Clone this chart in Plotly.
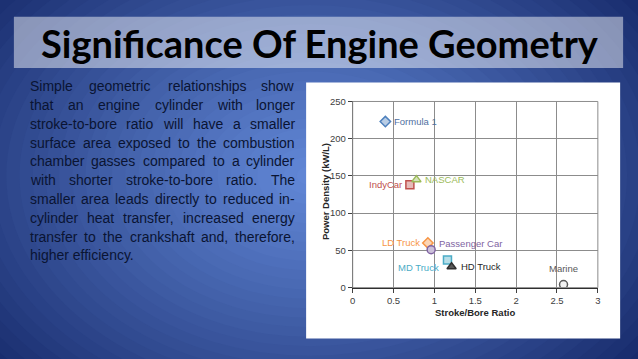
import plotly.graph_objects as go

# ---------------- data ----------------
names = ["Formula 1", "IndyCar", "NASCAR", "LD Truck", "Passenger Car", "MD Truck", "HD Truck", "Marine"]
stroke_bore = [0.40, 0.70, 0.78, 0.92, 0.96, 1.16, 1.21, 2.58]
power_density = [223, 138, 145, 60, 51, 37, 28, 4]
x_ticks = [0, 0.5, 1, 1.5, 2, 2.5, 3]
y_ticks = [0, 50, 100, 150, 200, 250]

title_text = "Significance Of Engine Geometry"
body_lines = [
    "Simple geometric relationships show",
    "that an engine cylinder with longer",
    "stroke-to-bore ratio will have a smaller",
    "surface area exposed to the combustion",
    "chamber gasses compared to a cylinder",
    "with shorter stroke-to-bore ratio. The",
    "smaller area leads directly to reduced in-",
    "cylinder heat transfer, increased energy",
    "transfer to the crankshaft and, therefore,",
    "higher efficiency.",
]

# ---------------- styles ----------------
W, H = 638, 359
symbols = ["diamond", "square", "triangle-up", "diamond", "circle", "square", "triangle-up", "circle"]
line_cols = ["#4F81BD", "#C0504D", "#9BBB59", "#F79646", "#8064A2", "#4BACC6", "#303030", "#595959"]
fill_cols = ["#B9CDE5", "#E6B9B8", "#D7E4BD", "#FCD5B5", "#CCC1DA", "#B7DEE8", "#595959", "#F2F2F2"]
label_cols = ["#4F6F9F", "#C0504D", "#9BBB59", "#F79646", "#8064A2", "#4BACC6", "#262626", "#595959"]
# (xanchor, xshift, yshift)
label_place = [("left", 9, 0), ("right", -8, 0), ("left", 9, 0), ("right", -8, 0),
               ("left", 8, 6), ("right", -8, -7), ("left", 9, 0), ("center", 0, 16)]

label_font = "Liberation Sans Narrow, Arial Narrow, Liberation Sans, Arial, sans-serif"

def px(x):
    return x / W

def py(y):
    return 1 - y / H

fig = go.Figure()

for i, n in enumerate(names):
    fig.add_trace(go.Scatter(
        x=[stroke_bore[i]], y=[power_density[i]], mode="markers", name=n,
        marker=dict(symbol=symbols[i], size=8, color=fill_cols[i],
                    line=dict(color=line_cols[i], width=1.5)),
        showlegend=False, hoverinfo="x+y+name"))
    xa, xs, ys = label_place[i]
    fig.add_annotation(x=stroke_bore[i], y=power_density[i], xref="x", yref="y",
                       text=n, showarrow=False, xanchor=xa, yanchor="middle",
                       xshift=xs, yshift=ys, borderpad=0, borderwidth=0,
                       font=dict(family=label_font, size=9.5, color=label_cols[i]))

# ---------------- background gradient ----------------
shapes = []
cx, cy = 310, 175
RX, RY = 600, 440
c_center = (98, 136, 215)
c_edge = (18, 36, 100)
N = 45
for k in range(N + 1):
    d = 1 - k / N
    t = min(d / 0.75, 1.0) ** 1.15
    col = tuple(int(round(c_center[j] + t * (c_edge[j] - c_center[j]))) for j in range(3))
    rx, ry = RX * d, RY * d
    if rx < 1:
        continue
    shapes.append(dict(type="circle", xref="paper", yref="paper", layer="below",
                       x0=px(cx - rx), x1=px(cx + rx), y0=py(cy + ry), y1=py(cy - ry),
                       fillcolor="rgb(%d,%d,%d)" % col, line=dict(width=0)))

# title box
shapes.append(dict(type="rect", xref="paper", yref="paper", layer="below",
                   x0=px(11), x1=px(626), y0=py(64), y1=py(11),
                   fillcolor="rgba(255,255,255,0.47)", line=dict(width=0)))
# white chart panel
shapes.append(dict(type="rect", xref="paper", yref="paper", layer="below",
                   x0=px(306), x1=px(623), y0=py(343), y1=py(79),
                   fillcolor="#FFFFFF", line=dict(width=0)))
# plot-area frame (top/right edges)
shapes.append(dict(type="rect", xref="x domain", yref="y domain", layer="above",
                   x0=0, x1=1, y0=0, y1=1, fillcolor="rgba(0,0,0,0)",
                   line=dict(color="#8C8C8C", width=1)))

# ---------------- title ----------------
fig.add_annotation(xref="paper", yref="paper", x=px(320), y=py(38.5), text="<b>" + title_text + "</b>",
                   showarrow=False, xanchor="center", yanchor="middle", borderpad=0, borderwidth=0,
                   font=dict(family="Lato, sans-serif", size=38, color="#000000", weight=900))

# ---------------- justified body text ----------------
AW = {'a': 556, 'b': 556, 'c': 500, 'd': 556, 'e': 556, 'f': 278, 'g': 556, 'h': 556, 'i': 222,
      'j': 222, 'k': 500, 'l': 222, 'm': 833, 'n': 556, 'o': 556, 'p': 556, 'q': 556, 'r': 333,
      's': 500, 't': 278, 'u': 556, 'v': 500, 'w': 722, 'x': 500, 'y': 500, 'z': 500,
      '-': 333, '.': 278, ',': 278, 'T': 611, 'S': 667, ' ': 278}
fs = 14.0
left, right = 27, 295
top_y, step = 83, 19.35
body_font = dict(family="Liberation Sans, Arial, sans-serif", size=fs, color="#0A1433")

def wwidth(w):
    return sum(AW.get(ch, 556) for ch in w) * fs / 1000.0

for li, line in enumerate(body_lines):
    yy = py(top_y + li * step)
    words = line.split(" ")
    if li == len(body_lines) - 1:
        fig.add_annotation(xref="paper", yref="paper", x=px(left), y=yy, text=line,
                           showarrow=False, xanchor="left", yanchor="middle",
                           borderpad=0, borderwidth=0, font=body_font)
        continue
    widths = [wwidth(w) for w in words]
    gap = (right - left - sum(widths)) / (len(words) - 1)
    xcur = left
    for wi, w in enumerate(words):
        if wi == len(words) - 1:
            fig.add_annotation(xref="paper", yref="paper", x=px(right), y=yy, text=w,
                               showarrow=False, xanchor="right", yanchor="middle",
                               borderpad=0, borderwidth=0, font=body_font)
        else:
            fig.add_annotation(xref="paper", yref="paper", x=px(xcur), y=yy, text=w,
                               showarrow=False, xanchor="left", yanchor="middle",
                               borderpad=0, borderwidth=0, font=body_font)
        xcur += widths[wi] + gap

# ---------------- axis titles ----------------
fig.add_annotation(xref="paper", yref="paper", x=px(325), y=py(191), text="<b>Power Density (kW/L)</b>",
                   textangle=-90, showarrow=False, xanchor="center", yanchor="middle",
                   borderpad=0, borderwidth=0,
                   font=dict(family=label_font, size=9.5, color="#262626"))
fig.add_annotation(xref="paper", yref="paper", x=px(476.7), y=py(316), text="<b>Stroke/Bore Ratio</b>",
                   showarrow=False, xanchor="center", yanchor="middle", borderpad=0, borderwidth=0,
                   font=dict(family=label_font, size=9.5, color="#262626"))

# ---------------- layout ----------------
x_dom = [px(353), px(600.5)]
y_dom = [1 - 290.5 / H, 1 - 98.5 / H]
tick_font = dict(family=label_font, size=9.5, color="#404040")

fig.update_layout(
    width=W, height=H, margin=dict(l=0, r=0, t=0, b=0),
    paper_bgcolor="rgb(18,36,100)", plot_bgcolor="#D9D9D9",
    shapes=shapes, showlegend=False,
    xaxis=dict(domain=x_dom, range=[0, 3], tickvals=x_ticks, ticktext=[str(v) for v in x_ticks],
               showgrid=True, gridcolor="#8C8C8C", gridwidth=1, zeroline=False,
               showline=True, linecolor="#262626", linewidth=1,
               ticks="outside", ticklen=4, tickcolor="#404040", tickfont=tick_font, fixedrange=True),
    yaxis=dict(domain=y_dom, range=[0, 250], tickvals=y_ticks,
               showgrid=True, gridcolor="#8C8C8C", gridwidth=1, zeroline=False,
               showline=True, linecolor="#404040", linewidth=1,
               ticks="outside", ticklen=4, tickcolor="#404040", tickfont=tick_font, fixedrange=True),
)

fig.write_html("out.html", config={"displayModeBar": False},
               post_script="document.body.style.margin='0';document.body.style.padding='0';"
                           "document.body.style.overflow='hidden';")
